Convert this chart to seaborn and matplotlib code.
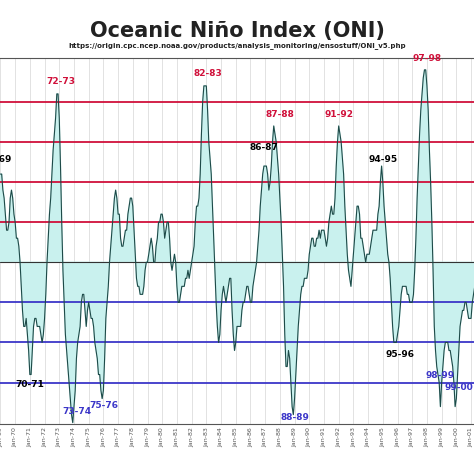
import numpy as np
import pandas as pd
import matplotlib
matplotlib.use("Agg")
import matplotlib.pyplot as plt
import seaborn as sns

years = list(range(1969, 2002))
oni_by_year = {
1969: [1.1,1.1,0.9,0.8,0.6,0.4,0.4,0.5,0.8,0.9,0.8,0.6],
1970: [0.5,0.3,0.3,0.2,0.0,-0.3,-0.6,-0.8,-0.8,-0.7,-0.9,-1.1],
1971: [-1.4,-1.4,-1.1,-0.8,-0.7,-0.7,-0.8,-0.8,-0.8,-0.9,-1.0,-0.9],
1972: [-0.7,-0.4,0.0,0.3,0.6,0.8,1.1,1.4,1.6,1.8,2.1,2.1],
1973: [1.8,1.2,0.5,-0.1,-0.5,-0.9,-1.1,-1.3,-1.5,-1.7,-1.9,-2.0],
1974: [-1.8,-1.6,-1.2,-1.0,-0.9,-0.8,-0.5,-0.4,-0.4,-0.6,-0.8,-0.6],
1975: [-0.5,-0.6,-0.7,-0.7,-0.8,-1.0,-1.1,-1.2,-1.4,-1.4,-1.6,-1.7],
1976: [-1.6,-1.2,-0.7,-0.5,-0.3,0.0,0.2,0.4,0.6,0.8,0.9,0.8],
1977: [0.6,0.6,0.3,0.2,0.2,0.3,0.4,0.4,0.6,0.7,0.8,0.8],
1978: [0.7,0.4,0.1,-0.2,-0.3,-0.3,-0.4,-0.4,-0.4,-0.3,-0.1,0.0],
1979: [0.0,0.1,0.2,0.3,0.2,0.0,0.0,0.2,0.3,0.5,0.5,0.6],
1980: [0.6,0.5,0.3,0.4,0.5,0.5,0.3,0.0,-0.1,0.0,0.1,0.0],
1981: [-0.3,-0.5,-0.5,-0.4,-0.3,-0.3,-0.3,-0.2,-0.2,-0.1,-0.2,-0.1],
1982: [0.0,0.1,0.2,0.5,0.7,0.7,0.8,1.1,1.6,2.0,2.2,2.2],
1983: [2.2,1.9,1.5,1.3,1.1,0.7,0.3,-0.1,-0.5,-0.8,-1.0,-0.9],
1984: [-0.6,-0.4,-0.3,-0.4,-0.5,-0.4,-0.3,-0.2,-0.2,-0.6,-0.9,-1.1],
1985: [-1.0,-0.8,-0.8,-0.8,-0.8,-0.6,-0.5,-0.5,-0.4,-0.3,-0.3,-0.4],
1986: [-0.5,-0.5,-0.3,-0.2,-0.1,0.0,0.2,0.4,0.7,0.9,1.1,1.2],
1987: [1.2,1.2,1.1,0.9,1.0,1.2,1.5,1.7,1.6,1.5,1.3,1.1],
1988: [0.8,0.5,0.1,-0.3,-0.9,-1.3,-1.3,-1.1,-1.2,-1.5,-1.8,-1.9],
1989: [-1.7,-1.4,-1.1,-0.8,-0.6,-0.4,-0.3,-0.3,-0.2,-0.2,-0.2,-0.1],
1990: [0.1,0.2,0.3,0.3,0.2,0.2,0.3,0.3,0.4,0.3,0.4,0.4],
1991: [0.4,0.3,0.2,0.3,0.5,0.6,0.7,0.6,0.6,0.8,1.2,1.5],
1992: [1.7,1.6,1.5,1.3,1.1,0.7,0.4,0.1,-0.1,-0.2,-0.3,-0.1],
1993: [0.1,0.3,0.5,0.7,0.7,0.6,0.3,0.3,0.2,0.1,0.0,0.1],
1994: [0.1,0.1,0.2,0.3,0.4,0.4,0.4,0.4,0.6,0.7,1.0,1.2],
1995: [1.0,0.7,0.5,0.3,0.1,0.0,-0.2,-0.5,-0.8,-1.0,-1.0,-1.0],
1996: [-0.9,-0.8,-0.6,-0.4,-0.3,-0.3,-0.3,-0.3,-0.4,-0.4,-0.5,-0.5],
1997: [-0.5,-0.4,-0.1,0.3,0.8,1.2,1.6,1.9,2.1,2.3,2.4,2.4],
1998: [2.2,1.9,1.4,1.0,0.5,-0.1,-0.8,-1.1,-1.3,-1.4,-1.5,-1.8],
1999: [-1.5,-1.3,-1.1,-1.0,-1.0,-1.0,-1.1,-1.1,-1.2,-1.3,-1.5,-1.8],
2000: [-1.7,-1.4,-1.1,-0.8,-0.7,-0.6,-0.6,-0.5,-0.5,-0.6,-0.7,-0.7],
2001: [-0.7,-0.5,-0.4,-0.3],
}
thresholds_pos = [0.5, 1.0, 1.5, 2.0]
thresholds_neg = [-0.5, -1.0, -1.5]
event_labels = ["-69", "70-71", "72-73", "73-74", "75-76", "82-83", "86-87", "87-88",
                "88-89", "91-92", "94-95", "95-96", "97-98", "98-99", "99-00"]
event_x = [1969.25, 1971.0, 1973.1, 1974.2, 1976.0, 1983.1, 1986.9, 1988.0,
           1989.0, 1992.0, 1995.0, 1996.2, 1998.0, 1998.9, 2000.2]
event_y = [1.22, -1.47, 2.2, -1.8, -1.73, 2.3, 1.38, 1.79,
           -1.88, 1.79, 1.23, -1.1, 2.49, -1.35, -1.5]
event_col = ["black", "black", "#d0103a", "#3b36c8", "#3b36c8", "#d0103a", "black", "#d0103a",
             "#3b36c8", "#d0103a", "black", "black", "#d0103a", "#3b36c8", "#3b36c8"]

rows = []
for y, vals in oni_by_year.items():
    for m, v in enumerate(vals):
        rows.append((y + m / 12.0, v))
df = pd.DataFrame(rows, columns=["t", "oni"])

sns.set_style("white")
fig = plt.figure(figsize=(4.74, 4.74), dpi=100)
ax = fig.add_axes([0.0, 0.105, 1.0, 0.773])

for yr in years:
    ax.axvline(yr, color="#dddddd", lw=0.6, zorder=0)
ax.fill_between(df["t"], df["oni"], 0, color="#c9f1ee", zorder=1)
sns.lineplot(data=df, x="t", y="oni", ax=ax, color="#1e4a48", lw=0.8, zorder=3)
for v in thresholds_pos:
    ax.axhline(v, color="#d0103a", lw=1.3, zorder=2)
for v in thresholds_neg:
    ax.axhline(v, color="#3b36c8", lw=1.3, zorder=2)
ax.axhline(0, color="#333333", lw=0.8, zorder=2)

for lab, x, y, c in zip(event_labels, event_x, event_y, event_col):
    va = "bottom" if y > 0 else "top"
    ax.text(x, y, lab, color=c, fontsize=6.5, fontweight="bold", ha="center", va=va, zorder=4)

ax.set_xlim(1968.97, 2001.2)
ax.set_ylim(-2.02, 2.55)
ax.set_xticks(years)
ax.set_xticklabels([f"Jan-{y % 100:02d}" for y in years], rotation=90, fontsize=4.5, color="#555555")
ax.set_yticks([])
ax.set_xlabel("")
ax.set_ylabel("")
for s in ["left", "right"]:
    ax.spines[s].set_visible(False)
ax.spines["top"].set_color("#555555")
ax.spines["bottom"].set_color("#555555")
ax.tick_params(axis="x", length=0, pad=2)

fig.text(0.5, 0.935, "Oceanic Niño Index (ONI)", ha="center", va="center",
         fontsize=15, fontweight="bold", color="#222222")
fig.text(0.5, 0.903, "https://origin.cpc.ncep.noaa.gov/products/analysis_monitoring/ensostuff/ONI_v5.php",
         ha="center", va="center", fontsize=5, fontweight="bold", color="#222222")
fig.patch.set_facecolor("white")
fig.savefig("out.png", dpi=100)
